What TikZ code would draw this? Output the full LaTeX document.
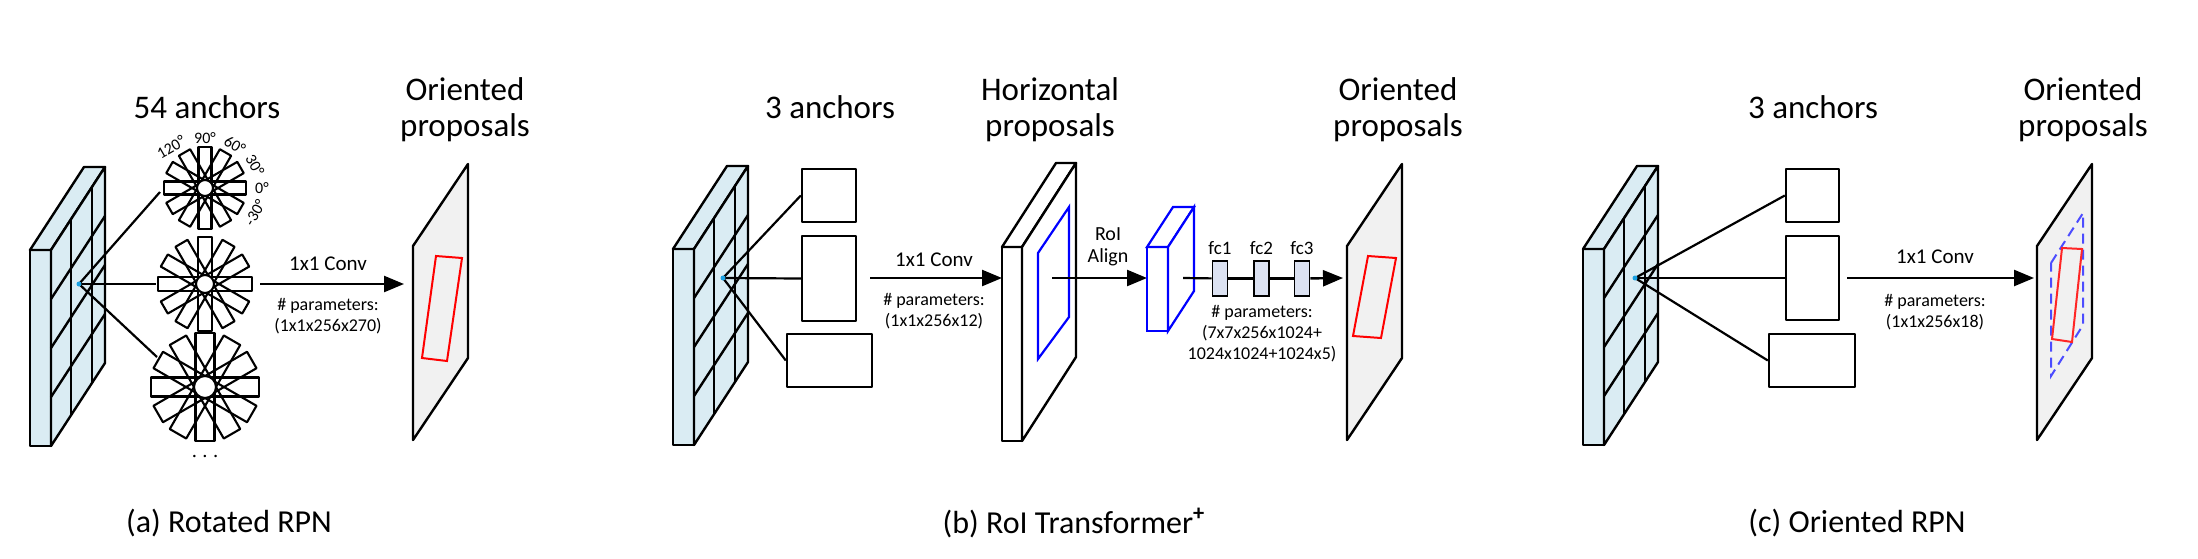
\documentclass[tikz,border=0pt]{standalone}
\usepackage{fontspec}
\setmainfont{Carlito}
\usetikzlibrary{arrows.meta,calc}
\definecolor{mapfill}{HTML}{DAECF3}
\definecolor{planefill}{HTML}{F1F1F1}
\definecolor{fcfill}{HTML}{DCE2F2}
\definecolor{dotc}{HTML}{1BA1E2}
\begin{document}
\begin{tikzpicture}[x=0.5pt,y=-0.5pt,
  lw/.style={line width=1.2pt,line join=round},
  slw/.style={line width=1.05pt,line join=round},
  conn/.style={line width=1.1pt},
  arr/.style={line width=1.2pt,-{Triangle[length=10pt,width=8pt]}},
  title/.style={font=\fontsize{16.5}{18}\selectfont,align=center,inner sep=0pt},
  conv/.style={font=\fontsize{10.5}{12}\selectfont,inner sep=0pt},
  param/.style={font=\fontsize{9}{10.5}\selectfont,align=center,inner sep=0pt},
  captxt/.style={font=\fontsize{16}{18}\selectfont,inner sep=0pt},
  ang/.style={font=\fontsize{8}{8}\selectfont,inner sep=0pt},
  abox/.style={draw,lw,fill=white,inner sep=0pt},
  fc/.style={draw,line width=0.8pt,fill=fcfill,minimum width=7.5pt,minimum height=17.5pt,inner sep=0pt},
  fmap/.pic={
    \draw[lw,fill=mapfill] (0,0) rectangle (21,196);
    \draw[lw,fill=mapfill] (0,0) -- (54,-83) -- (75,-83) -- (21,0) -- cycle;
    \draw[lw,fill=mapfill] (21,0) -- (75,-83) -- (75,113) -- (21,196) -- cycle;
    \foreach \c in {41,62}{\draw[lw] (\c,{-83*(\c-21)/54}) -- ++(0,196);}
    \foreach \k in {1,2,3}{\draw[lw] (21,{49*\k}) -- ++(54,-83);}
  },
  plane/.pic={
    \draw[lw,fill=planefill] (0,0) -- (55,-82) -- (55,112) -- (0,194) -- cycle;
  }]
\useasboundingbox (0,0) rectangle (2198,558);

% ================= (a) =================
\pic at (30,250) {fmap};
\coordinate (dA) at (79,284);
\node[title] (tA1) at (207,107) {54 anchors};
\node[title] (tA2) at (465,110) {Oriented\\proposals};
\foreach \n/\y/\L/\W/\r in {sA1/188/41/6.5/8, sA2/284/47/7/9, sA3/387/54/9.5/11}{
  \coordinate (\n) at (205,\y);
  \foreach \a in {0,30,60,90,120,150}{
    \node[draw,slw,minimum width=\L pt,minimum height=\W pt,inner sep=0pt,rotate=\a] at (\n) {};
  }
  \draw[slw,fill=white] (\n) circle (\r);
}
\node[ang,rotate=30] (g120) at (171,147) {120°};
\node[ang] (g90) at (205,138) {90°};
\node[ang,rotate=-30] (g60) at (235,145) {60°};
\node[ang,rotate=-60] (g30) at (255,165) {30°};
\node[ang] (g0) at (262,188) {0°};
\node[ang,rotate=60] (gm30) at (255,213) {-30°};
\node[font=\fontsize{12}{12}\selectfont,inner sep=0pt] (dots) at (205,457) {$\cdots$};
\coordinate (eA1) at (160,192);
\coordinate (eA2) at (156,284);
\coordinate (eA3) at (157,357);
\draw[conn] (dA) -- (eA1);
\draw[conn] (dA) -- (eA2);
\draw[conn] (dA) -- (eA3);
\fill[dotc] (dA) circle (2.5);
\pic at (413,246) {plane};
\draw[red,line width=1pt] (436,256) -- (462,258) -- (447,361) -- (422,358) -- cycle;
\coordinate (aS) at (260,284);
\coordinate (aE) at (404,284);
\draw[arr] (aS) -- (aE);
\node[conv] (cA) at (328,264) {1x1 Conv};
\node[param] (pA) at (328,316) {\# parameters:\\(1x1x256x270)};
\node[captxt] (capA) at (229,523) {(a) Rotated RPN};

% ================= (b) =================
\pic at (673,249) {fmap};
\coordinate (dB) at (723,278);
\node[title] (tB1) at (830,107) {3 anchors};
\node[title] (tB2) at (1050,110) {Horizontal\\proposals};
\node[title] (tB3) at (1398,110) {Oriented\\proposals};
\node[abox,minimum width=27pt,minimum height=26.5pt] (bb1) at (829,195.5) {};
\node[abox,minimum width=27pt,minimum height=42.5pt] (bb2) at (829,278.5) {};
\node[abox,minimum width=42.5pt,minimum height=26.5pt] (bb3) at (829.5,360.5) {};
\draw[conn] (dB) -- (bb1.west);
\draw[conn] (dB) -- (bb2.west);
\draw[conn] (dB) -- (bb3.west);
\fill[dotc] (dB) circle (2.5);
% horizontal proposals slab
\draw[lw,fill=white] (1002,247) rectangle (1022,441);
\draw[lw,fill=white] (1002,247) -- (1056,163) -- (1076,163) -- (1022,247) -- cycle;
\draw[lw,fill=white] (1022,247) -- (1076,163) -- (1076,357) -- (1022,441) -- cycle;
\draw[blue,line width=1.1pt] (1038,253) -- (1069,207) -- (1069,317) -- (1038,359) -- cycle;
\coordinate (bS) at (870,278);
\coordinate (bE) at (1002,278);
\draw[arr] (bS) -- (bE);
\node[conv] (cB) at (934,260) {1x1 Conv};
\node[param] (pB) at (934,311) {\# parameters:\\(1x1x256x12)};
% RoI Align
\coordinate (rS) at (1052,278);
\coordinate (rE) at (1147,278);
\draw[arr] (rS) -- (rE);
\node[conv,align=center,font=\fontsize{10}{11}\selectfont] (rA) at (1108,247) {RoI\\Align};
% blue cube
\draw[blue,line width=1.1pt,fill=white] (1147,247) rectangle (1168,331);
\draw[blue,line width=1.1pt,fill=white] (1147,247) -- (1173,207) -- (1194,207) -- (1168,247) -- cycle;
\draw[blue,line width=1.1pt,fill=white] (1168,247) -- (1194,207) -- (1194,291) -- (1168,331) -- cycle;
\coordinate (cS) at (1183,278);
\node[fc] (fc1) at (1220,278.5) {};
\node[fc] (fc2) at (1261.5,278.5) {};
\node[fc] (fc3) at (1302,278.5) {};
\coordinate (pBin) at (1343,278);
\draw[conn] (cS) -- (fc1);
\draw[conn] (fc1) -- (fc2);
\draw[conn] (fc2) -- (fc3);
\draw[arr] (fc3) -- (pBin);
\node[conv,font=\fontsize{9.5}{10}\selectfont] at (1220,248) {fc1};
\node[conv,font=\fontsize{9.5}{10}\selectfont] at (1261.5,248) {fc2};
\node[conv,font=\fontsize{9.5}{10}\selectfont] at (1302,248) {fc3};
\node[param] (pB2) at (1262,334) {\# parameters:\\(7x7x256x1024+\\1024x1024+1024x5)};
\pic at (1347,246) {plane};
\draw[red,line width=1pt] (1368,256) -- (1396,258) -- (1381,338) -- (1353,336) -- cycle;
\node[captxt] (capB) at (1074,523) {(b) RoI Transformer\textsuperscript{\textbf{+}}};

% ================= (c) =================
\pic at (1583,249) {fmap};
\coordinate (dC) at (1635,278);
\node[title] (tC1) at (1813,107) {3 anchors};
\node[title] (tC2) at (2083,110) {Oriented\\proposals};
\node[abox,minimum width=26.5pt,minimum height=26.5pt] (cb1) at (1812.5,195.5) {};
\node[abox,minimum width=26.5pt,minimum height=42pt] (cb2) at (1812.5,278) {};
\node[abox,minimum width=43pt,minimum height=26.5pt] (cb3) at (1812,360.5) {};
\draw[conn] (dC) -- (cb1.west);
\draw[conn] (dC) -- (cb2.west);
\draw[conn] (dC) -- (cb3.west);
\fill[dotc] (dC) circle (2.5);
\coordinate (ccS) at (1847,278);
\coordinate (ccE) at (2034,278);
\draw[arr] (ccS) -- (ccE);
\node[conv] (cC) at (1935,257) {1x1 Conv};
\node[param] (pC) at (1935,312) {\# parameters:\\(1x1x256x18)};
\pic at (2037,246) {plane};
\draw[blue!70!white,line width=1pt,dash pattern=on 5pt off 3pt] (2051,263) -- (2083,213) -- (2083,325) -- (2051,376) -- cycle;
\draw[red!85!white,line width=1pt] (2062,248) -- (2082,249) -- (2072,342) -- (2052,339) -- cycle;
\node[captxt] (capC) at (1857,523) {(c) Oriented RPN};
\end{tikzpicture}
\end{document}
